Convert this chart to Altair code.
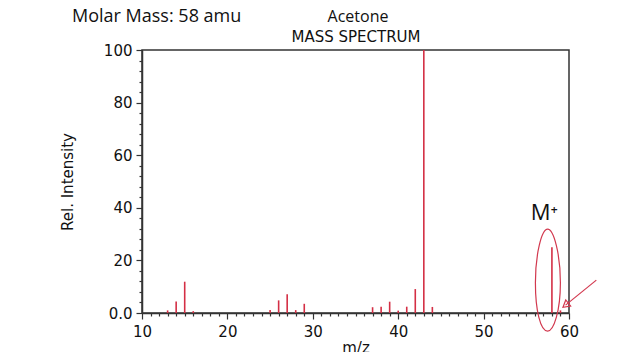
import altair as alt
import pandas as pd

# m/z values and relative intensities
mz = [13, 14, 15, 16, 25, 26, 27, 28, 29, 37, 38, 39, 40, 41, 42, 43, 44, 58, 59]
intensity = [1.0, 4.4, 11.9, 0.7, 1.1, 4.8, 7.1, 1.1, 3.5, 2.2, 2.4, 4.3, 0.9, 2.4, 9.1, 100.0, 2.3, 25.0, 1.0]

x_ticks = list(range(10, 61))
y_ticks = list(range(0, 101, 4))

# hand-drawn annotation positions (in data units)
circle_mz, circle_int = [57.5], [12.5]
arrow_mz, arrow_mz2, arrow_int, arrow_int2 = [63.2], [59.6], [12.5], [3.0]

df = pd.DataFrame({"mz": mz, "intensity": intensity, "base": [0] * len(mz)})

PEAK = "#d42f45"
INK = "#d2384e"
TXT = "#111111"

x_axis = alt.Axis(
    title="m/z",
    values=x_ticks,
    labelExpr="datum.value % 10 === 0 ? datum.label : ''",
    labelOverlap=False,
    labelFlush=False,
    tickSize={"condition": {"test": "datum.value % 10 === 0", "value": 6}, "value": 3},
    grid=False,
    labelPadding=5,
    titlePadding=1,
)
y_axis = alt.Axis(
    title="Rel. Intensity",
    values=y_ticks,
    labelExpr="datum.value % 20 === 0 ? (datum.value === 0 ? '0.0' : datum.label) : ''",
    labelOverlap=False,
    labelFlush=False,
    tickSize={"condition": {"test": "datum.value % 20 === 0", "value": 6}, "value": 3},
    grid=False,
    labelPadding=4,
    titlePadding=28,
)
x_scale = alt.Scale(domain=[10, 60], nice=False, zero=False)
y_scale = alt.Scale(domain=[0, 100], nice=False)


def xe(field="mz"):
    return alt.X(f"{field}:Q", scale=x_scale, axis=x_axis)


def ye(field="intensity"):
    return alt.Y(f"{field}:Q", scale=y_scale, axis=y_axis)


peaks = alt.Chart(df).mark_rule(color=PEAK, strokeWidth=1.6).encode(
    x=xe(), y=ye(), y2="base:Q"
)

labels = pd.DataFrame({"mz": [57.1], "intensity": [35.4], "txt": ["M\u207a"]})
mlabel = alt.Chart(labels).mark_text(
    font="Open Sans", fontSize=22, color=TXT, align="center", baseline="alphabetic"
).encode(x=xe(), y=ye(), text="txt:N")

ellipse_path = (
    "M0,-1 C0.12,-1 0.25,-0.5 0.25,0.05 C0.25,0.6 0.12,1 0,1 "
    "C-0.14,1 -0.24,0.6 -0.24,0.05 C-0.24,-0.5 -0.12,-1 0,-1 Z"
)
circ = alt.Chart(pd.DataFrame({"mz": circle_mz, "intensity": circle_int})).mark_point(
    shape=ellipse_path, size=10400, filled=False, color=INK, strokeWidth=1.2, opacity=1
).encode(x=xe(), y=ye())

arrow_df = pd.DataFrame(
    {"mz": arrow_mz, "mz2": arrow_mz2, "intensity": arrow_int, "int2": arrow_int2}
)
arrow = alt.Chart(arrow_df).mark_rule(color=INK, strokeWidth=1.2).encode(
    x=xe(), x2="mz2:Q", y=ye(), y2="int2:Q"
)
arrow_head = alt.Chart(
    pd.DataFrame({"mz": arrow_mz2, "intensity": arrow_int2})
).mark_point(
    shape="triangle-left", size=60, filled=False, color=INK, strokeWidth=1.2, angle=321, opacity=1
).encode(x=xe(), y=ye())

molar = alt.Chart(pd.DataFrame({"t": ["Molar Mass: 58 amu"]})).mark_text(
    font="Open Sans", fontSize=18, color=TXT, align="left", baseline="alphabetic"
).encode(x=alt.value(-70), y=alt.value(-28), text="t:N")

title1 = alt.Chart(pd.DataFrame({"t": ["Acetone"]})).mark_text(
    font="Open Sans", fontSize=16, color=TXT, align="center", baseline="alphabetic"
).encode(x=alt.value(216), y=alt.value(-28), text="t:N")

title2 = alt.Chart(pd.DataFrame({"t": ["MASS SPECTRUM"]})).mark_text(
    font="DejaVu Sans", fontSize=15, color=TXT, align="center", baseline="alphabetic"
).encode(x=alt.value(214), y=alt.value(-8), text="t:N")

chart = (
    alt.layer(peaks, mlabel, circ, arrow, arrow_head, molar, title1, title2)
    .properties(
        width=427,
        height=263,
        padding={"left": 134, "top": 42, "right": 60, "bottom": 39},
        autosize=alt.AutoSizeParams(type="none"),
    )
    .configure_view(stroke="#333333", strokeWidth=1.5)
    .configure_axis(
        domainColor="#333333",
        domainWidth=1.5,
        tickColor="#333333",
        tickWidth=1.2,
        labelFont="DejaVu Sans",
        labelFontSize=15,
        labelColor=TXT,
        titleFont="DejaVu Sans",
        titleFontSize=15,
        titleFontWeight="normal",
        titleColor=TXT,
    )
)

chart.save("out.html", embed_options={"renderer": "svg", "actions": False})
